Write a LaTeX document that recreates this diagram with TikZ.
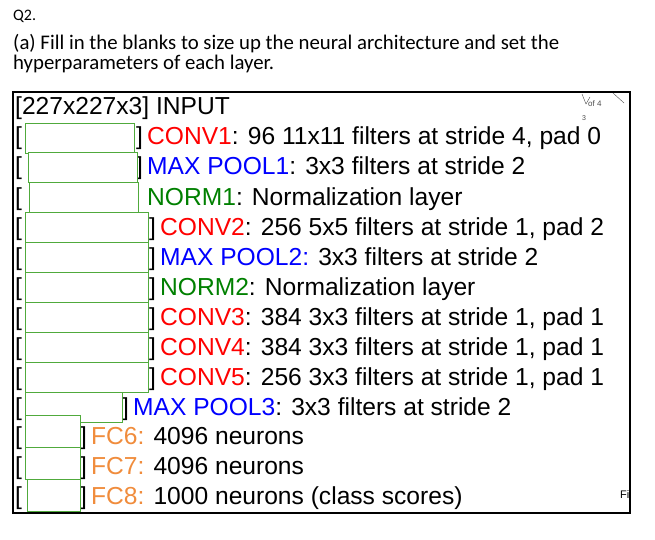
\documentclass[tikz,border=0pt]{standalone}
\usepackage{fontspec}
\setmainfont{Liberation Sans}
\newfontfamily\headfont{Carlito}
\definecolor{convred}{RGB}{255,0,0}
\definecolor{poolblue}{RGB}{0,0,255}
\definecolor{normgreen}{RGB}{0,128,0}
\definecolor{fcorange}{RGB}{240,140,60}
\definecolor{blankgreen}{RGB}{80,170,60}
\begin{document}
\begin{tikzpicture}[x=1pt,y=-1pt,
            row/.style={anchor=base west,inner sep=0pt,font=\fontsize{24.6}{24.6}\selectfont},
            head/.style={anchor=base west,inner sep=0pt,font=\headfont\fontsize{20.8}{20.8}\selectfont},
            blank/.style={draw=blankgreen,fill=white,line width=0.8pt}]
        \useasboundingbox (0,0) rectangle (655,540);

        % Question text
        \node[head,font=\headfont\fontsize{16}{16}\selectfont] (q) at (13,21) {Q2.};
        \node[head] (a1) at (13,50) {(a) Fill in the blanks to size up the neural architecture and set the};
        \node[head] (a2) at (13,70) {hyperparameters of each layer.};

        % Frame
        \draw[line width=2pt] (13,92) rectangle (630,513);
        \node[anchor=base west,inner sep=0pt,font=\fontsize{8}{8}\selectfont,gray!60!black] (of4) at (588,107) {of 4};
        \node[anchor=base west,inner sep=0pt,font=\fontsize{7}{7}\selectfont,gray!60!black] (three) at (582,121) {3};
        \draw[gray!60!black,thin] (582,94) -- (586,104) -- (590,97) (613,93) -- (624,103);
        \node[anchor=base west,inner sep=0pt,font=\fontsize{11}{11}\selectfont] (fi) at (620,498) {Fi};

        % Layers
        \node[row] (in) at (15,115) {[227x227x3] INPUT};
        \foreach \y in {145,175,205,235,265,295,325,355,385,415,444,474,504}
            \node[row] at (15,\y) {[};
        \node[row] (c1) at (136,145) {]\,\textcolor{convred}{CONV1}: 96 11x11 filters at stride 4, pad 0};
        \node[row] (p1) at (136,175) {]\,\textcolor{poolblue}{MAX POOL1}: 3x3 filters at stride 2};
        \node[row] (n1) at (147,205) {\textcolor{normgreen}{NORM1}: Normalization layer};
        \node[row] (c2) at (149,235) {]\,\textcolor{convred}{CONV2}: 256 5x5 filters at stride 1, pad 2};
        \node[row] (p2) at (149,265) {]\,\textcolor{poolblue}{MAX POOL2:} 3x3 filters at stride 2};
        \node[row] (n2) at (149,295) {]\,\textcolor{normgreen}{NORM2}: Normalization layer};
        \node[row] (c3) at (149,325) {]\,\textcolor{convred}{CONV3}: 384 3x3 filters at stride 1, pad 1};
        \node[row] (c4) at (149,355) {]\,\textcolor{convred}{CONV4}: 384 3x3 filters at stride 1, pad 1};
        \node[row] (c5) at (149,385) {]\,\textcolor{convred}{CONV5}: 256 3x3 filters at stride 1, pad 1};
        \node[row] (p3) at (122,415) {]\,\textcolor{poolblue}{MAX POOL3}: 3x3 filters at stride 2};
        \node[row] (f6) at (80,444) {]\,\textcolor{fcorange}{FC6:} 4096 neurons};
        \node[row] (f7) at (80,474) {]\,\textcolor{fcorange}{FC7:} 4096 neurons};
        \node[row] (f8) at (80,504) {]\,\textcolor{fcorange}{FC8:} 1000 neurons (class scores)};

        % Blanks
        \draw[blank] (25,123) rectangle (134,153);
        \draw[blank] (28,152) rectangle (137,182);
        \draw[blank] (29,182) rectangle (138,212);
        \foreach \y in {212,242,272,302,332,362}
            \draw[blank] (25,\y) rectangle (148,\y+30);
        \draw[blank] (25,392) rectangle (122,422);
        \draw[blank] (25,415) rectangle (80,447);
        \draw[blank] (25,447) rectangle (80,479);
        \draw[blank] (27,479) rectangle (80,511);

        \end{tikzpicture}
\end{document}
